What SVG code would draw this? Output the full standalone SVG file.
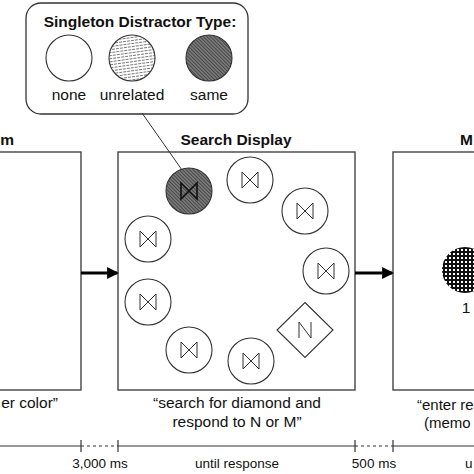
<svg xmlns="http://www.w3.org/2000/svg" width="474" height="474" viewBox="0 0 474 474">
<style>
.frame{fill:none;stroke:#444;stroke-width:1.4}
.title{font-family:"Liberation Sans",Arial,sans-serif;font-weight:bold;font-size:15.5px;fill:#111}
.lbl{font-family:"Liberation Sans",Arial,sans-serif;font-size:15.5px;fill:#111}
.time{font-family:"Liberation Sans",Arial,sans-serif;font-size:13.5px;fill:#111}
.item{fill:#fff;stroke:#333;stroke-width:1.1}
.bow{fill:none;stroke:#333;stroke-width:1}
.arrow{stroke:#000;stroke-width:3;fill:none}
.tl{stroke:#333;stroke-width:1.2;fill:none}
.tld{stroke:#333;stroke-width:1.2;fill:none;stroke-dasharray:3 3}
</style>
<defs>
<pattern id="hatch" width="2.5" height="2.5" patternUnits="userSpaceOnUse" patternTransform="rotate(-45)">
<rect width="2.5" height="2.5" fill="#777"/>
<line x1="0" y1="0" x2="0" y2="2.5" stroke="#333" stroke-width="1.2"/>
</pattern>
<pattern id="lines" width="4" height="3" patternUnits="userSpaceOnUse" patternTransform="rotate(-8)">
<rect width="4" height="3" fill="#fff"/>
<line x1="0" y1="1.5" x2="3" y2="1.5" stroke="#777" stroke-width="1"/>
</pattern>
<pattern id="checker" width="4" height="4" patternUnits="userSpaceOnUse">
<rect width="4" height="4" fill="#111"/>
<rect x="1" y="1" width="2" height="2" fill="#fff"/>
</pattern>
<path id="bt" d="M-8,-8 L8,8 L8,-8 L-8,8 Z"/>
<marker id="ah" markerWidth="4" markerHeight="4" refX="3.3" refY="2" orient="auto" markerUnits="strokeWidth">
<path d="M0,0 L4,2 L0,4 Z" fill="#000"/>
</marker>
</defs>

<g id="callout">
<rect x="26" y="3" width="222" height="111" rx="15" ry="15" fill="#fff" stroke="#333" stroke-width="1.3"/>
<text class="title" x="140" y="27" text-anchor="middle">Singleton Distractor Type:</text>
<circle cx="69" cy="58" r="23" class="item"/>
<circle cx="132" cy="58" r="23" fill="url(#lines)" stroke="#333" stroke-width="1.1"/>
<circle cx="209" cy="58" r="23" fill="url(#hatch)" stroke="#333" stroke-width="1.1"/>
<text class="lbl" x="69" y="100" text-anchor="middle">none</text>
<text class="lbl" x="132" y="100" text-anchor="middle">unrelated</text>
<text class="lbl" x="209" y="100" text-anchor="middle">same</text>
</g>

<g id="memory-panel">
<rect x="-10" y="152" width="91" height="238" class="frame"/>
<text class="title" x="14" y="145" text-anchor="end">m</text>
<text class="lbl" x="58" y="408" text-anchor="end">er color”</text>
</g>

<g id="search-panel">
<rect x="118" y="152" width="237" height="238" class="frame"/>
<text class="title" x="236" y="145" text-anchor="middle">Search Display</text>
<g id="item0" transform="translate(326,271)"><circle r="23" class="item"/><use href="#bt" class="bow"/></g>
<g id="item1" transform="translate(305,330)"><path d="M0,-27.5 L28,0 L0,27.5 L-28,0 Z" class="item"/><path d="M-6,8 L-6,-8 L6,8 L6,-8" class="bow" stroke-width="1.1"/></g>
<g id="item2" transform="translate(251,361)"><circle r="23" class="item"/><use href="#bt" class="bow"/></g>
<g id="item3" transform="translate(189,350)"><circle r="23" class="item"/><use href="#bt" class="bow"/></g>
<g id="item4" transform="translate(148,302)"><circle r="23" class="item"/><use href="#bt" class="bow"/></g>
<g id="item5" transform="translate(148,239)"><circle r="23" class="item"/><use href="#bt" class="bow"/></g>
<g id="item6" transform="translate(189,191)"><circle r="23" fill="url(#hatch)" stroke="#333" stroke-width="1.1"/><use href="#bt" fill="none" stroke="#111" stroke-width="1.6"/></g>
<g id="item7" transform="translate(250,180)"><circle r="23" class="item"/><use href="#bt" class="bow"/></g>
<g id="item8" transform="translate(305,211)"><circle r="23" class="item"/><use href="#bt" class="bow"/></g>
<text class="lbl" x="237" y="408" text-anchor="middle">“search for diamond and</text>
<text class="lbl" x="237" y="427" text-anchor="middle">respond to N or M”</text>
</g>

<g id="test-panel">
<rect x="393" y="152" width="100" height="238" class="frame"/>
<text class="title" x="460" y="145">M</text>
<circle cx="465" cy="270" r="23" fill="url(#checker)"/>
<text class="lbl" x="466" y="313" text-anchor="middle">1</text>
<text class="lbl" x="417" y="410" style="font-size:15px">“enter re</text>
<text class="lbl" x="424" y="428" style="font-size:15px">(memo</text>
</g>

<g id="connectors">
<line x1="142" y1="113" x2="182" y2="170" stroke="#333" stroke-width="1"/>
<line x1="81" y1="273" x2="117" y2="273" class="arrow" marker-end="url(#ah)"/>
<line x1="355" y1="273" x2="392" y2="273" class="arrow" marker-end="url(#ah)"/>
</g>

<g id="timeline">
<line x1="0" y1="446" x2="81" y2="446" class="tl"/>
<line x1="81" y1="446" x2="118" y2="446" class="tld"/>
<line x1="118" y1="446" x2="355" y2="446" class="tl"/>
<line x1="355" y1="446" x2="393" y2="446" class="tld"/>
<line x1="393" y1="446" x2="474" y2="446" class="tl"/>
<line x1="81" y1="440" x2="81" y2="452" class="tl"/>
<line x1="118" y1="440" x2="118" y2="452" class="tl"/>
<line x1="355" y1="440" x2="355" y2="452" class="tl"/>
<line x1="393" y1="440" x2="393" y2="452" class="tl"/>
<text class="time" x="100" y="468" text-anchor="middle">3,000 ms</text>
<text class="time" x="237" y="468" text-anchor="middle">until response</text>
<text class="time" x="374" y="468" text-anchor="middle">500 ms</text>
<text class="time" x="465" y="468">u</text>
</g>
</svg>
